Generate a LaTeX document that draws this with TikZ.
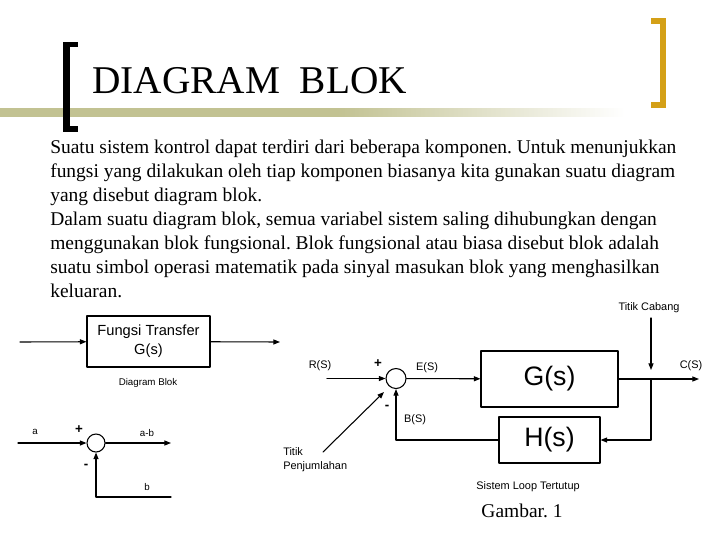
\documentclass[tikz,border=0pt]{standalone}
\usepackage{fontspec}
\setmainfont{Liberation Serif}
\setsansfont{Liberation Sans}
\usepackage{xcolor}
\usetikzlibrary{arrows.meta}
\definecolor{garisjudul}{RGB}{194,194,146}
\definecolor{kurungemas}{RGB}{212,160,23}
\pgfdeclarehorizontalshading{palangjudul}{100bp}{color(0bp)=(garisjudul); color(25bp)=(garisjudul); color(52bp)=(garisjudul); color(75bp)=(white); color(100bp)=(white)}
\tikzset{
  blok/.style={draw,line width=0.8pt,inner sep=0pt,font=\sffamily},
  jumlah/.style={draw,circle,line width=0.8pt,inner sep=0pt},
  label/.style={font=\sffamily\fontsize{8.2}{10}\selectfont,inner sep=0pt},
  kecil/.style={font=\sffamily\fontsize{7.3}{9}\selectfont,inner sep=0pt},
  tanda/.style={font=\sffamily\bfseries\fontsize{10}{12}\selectfont,inner sep=0pt},
  sambung/.style={->,line width=0.8pt}
}
\begin{document}
\frenchspacing
\begin{tikzpicture}[line cap=round,line join=round,>={Triangle[length=5pt,width=3.8pt]},x=0.75pt,y=-0.75pt]
\useasboundingbox (0,0) rectangle (720,540);
% judul
\shade[shading=palangjudul] (0,108) rectangle (625,116);
\fill[black] (63,42) rectangle (70,132);
\fill[black] (63,42) rectangle (78,47);
\fill[black] (63,126) rectangle (78,132);
\fill[kurungemas] (660,18) rectangle (666,108);
\fill[kurungemas] (651,18) rectangle (666,24);
\fill[kurungemas] (651,102) rectangle (666,108);
\node[anchor=base west,inner sep=0pt,font=\fontsize{29.5}{31}\selectfont] (judul) at (92,93) {DIAGRAM\ \ BLOK};
\node[anchor=north west,inner sep=0pt,align=left,font=\fontsize{14.6}{18}\selectfont] (isi) at (50,140)
 {Suatu sistem kontrol dapat terdiri dari beberapa komponen. Untuk menunjukkan\\
  fungsi yang dilakukan oleh tiap komponen biasanya kita gunakan suatu diagram\\
  yang disebut diagram blok.\\
  Dalam suatu diagram blok, semua variabel sistem saling dihubungkan dengan\\
  menggunakan blok fungsional. Blok fungsional atau biasa disebut blok adalah\\
  suatu simbol operasi matematik pada sinyal masukan blok yang menghasilkan\\
  keluaran.};
% diagram blok
\node[blok,minimum width=92.25pt,minimum height=38.25pt,align=center,font=\sffamily\fontsize{11}{14.2}\selectfont] (fungsi) at (148.5,341.5) {Fungsi Transfer\\G(s)};
\coordinate (fmasuk) at (20,342);
\coordinate (fkeluar) at (280,342);
\draw[sambung] (fmasuk) -- (fungsi);
\draw[sambung] (fungsi) -- (fkeluar);
\node[kecil] (ldiagram) at (148,383) {Diagram Blok};
% titik penjumlahan kecil
\node[jumlah,minimum size=13.5pt] (jum1) at (96,443) {};
\coordinate (amasuk) at (18,443);
\coordinate (abkeluar) at (171,443);
\coordinate (bmasuk) at (171,497);
\draw[sambung] (amasuk) -- (jum1);
\draw[sambung] (jum1) -- (abkeluar);
\draw[sambung] (bmasuk) -| (jum1.south);
\node[kecil] (la) at (35,432) {a};
\node[tanda] (lplus1) at (79,430) {+};
\node[kecil] (lab) at (147,433) {a-b};
\node[tanda] (lmin1) at (86,466) {-};
\node[kecil] (lb) at (147,487) {b};
% sistem loop tertutup
\node[jumlah,minimum size=15pt] (jum2) at (396,378.5) {};
\node[blok,minimum width=102.75pt,minimum height=42pt,font=\sffamily\fontsize{20}{24}\selectfont] (gs) at (549.5,379) {G(s)};
\node[blok,minimum width=75.75pt,minimum height=34.5pt,font=\sffamily\fontsize{20}{24}\selectfont] (hs) at (549.5,440) {H(s)};
\coordinate (rmasuk) at (327,378.5);
\coordinate (ckeluar) at (699,379);
\coordinate (cabang) at (651,379);
\coordinate (tcatas) at (651,318);
\coordinate (tcbawah) at (651,370);
\coordinate (tpawal) at (323,452);
\coordinate (tpakhir) at (384,392);
\draw[sambung] (rmasuk) -- (jum2);
\draw[sambung] (jum2) -- (gs);
\draw[sambung] (gs.east) -- (ckeluar);
\draw[sambung] (cabang) |- (hs.east);
\draw[sambung] (hs.west) -| (jum2.south);
\draw[sambung] (tcatas) -- (tcbawah);
\draw[sambung] (tpawal) -- (tpakhir);
\node[label] (lr) at (320,366) {R(S)};
\node[tanda] (lplus2) at (378,364) {+};
\node[label] (le) at (427,368) {E(S)};
\node[tanda] (lmin2) at (387,407) {-};
\node[label] (lbs) at (415,420) {B(S)};
\node[label] (lc) at (691,366) {C(S)};
\node[label] (ltc) at (649,308) {Titik Cabang};
\node[label,anchor=west,align=left,font=\sffamily\fontsize{8.2}{10.5}\selectfont] (ltp) at (283,460) {Titik\\Penjumlahan};
\node[label] (lsistem) at (528,487) {Sistem Loop Tertutup};
\node[anchor=base,inner sep=0pt,font=\fontsize{14.6}{18}\selectfont] (gambar) at (522,517) {Gambar. 1};
\end{tikzpicture}
\end{document}
